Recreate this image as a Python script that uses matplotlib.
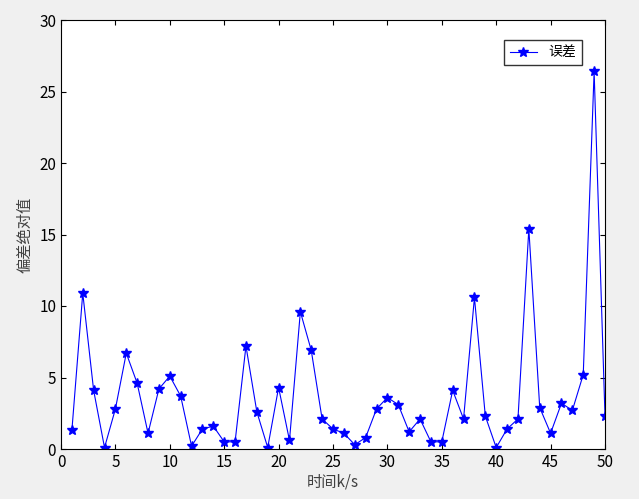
import numpy as np
import matplotlib.pyplot as plt

plt.rcParams['font.family'] = ['Noto Sans CJK SC', 'DejaVu Sans']

k = np.arange(1, 51)
err = [1.3, 10.9, 4.1, 0.1, 2.8, 6.7, 4.6, 1.1, 4.2, 5.1,
       3.7, 0.2, 1.4, 1.6, 0.5, 0.5, 7.2, 2.6, 0.1, 4.3,
       0.6, 9.6, 6.9, 2.1, 1.4, 1.1, 0.3, 0.8, 2.8, 3.6,
       3.1, 1.2, 2.1, 0.5, 0.5, 4.1, 2.1, 10.6, 2.3, 0.1,
       1.4, 2.1, 15.4, 2.9, 1.1, 3.2, 2.7, 5.2, 26.4, 2.3]

fig = plt.figure(figsize=(6.39, 4.99), dpi=100, facecolor='#f0f0f0')
ax = fig.add_axes([61/639, 50/499, 544/639, 429/499])
ax.plot(k, err, color='blue', marker='*', markersize=7, linewidth=0.8, label='误差')
ax.set_xlim(0, 50)
ax.set_ylim(0, 30)
ax.set_xticks(range(0, 51, 5))
ax.set_yticks(range(0, 31, 5))
ax.tick_params(direction='in', labelsize=11, top=True, right=True)
ax.set_xlabel('时间k/s', fontsize=11, color='#404040', labelpad=2)
ax.set_ylabel('偏差绝对值', fontsize=11, color='#404040')
ax.legend(loc='upper right', fontsize=10, fancybox=False, edgecolor='black',
          bbox_to_anchor=(0.97, 0.97))
fig.savefig('out.png', dpi=100, facecolor=fig.get_facecolor())
